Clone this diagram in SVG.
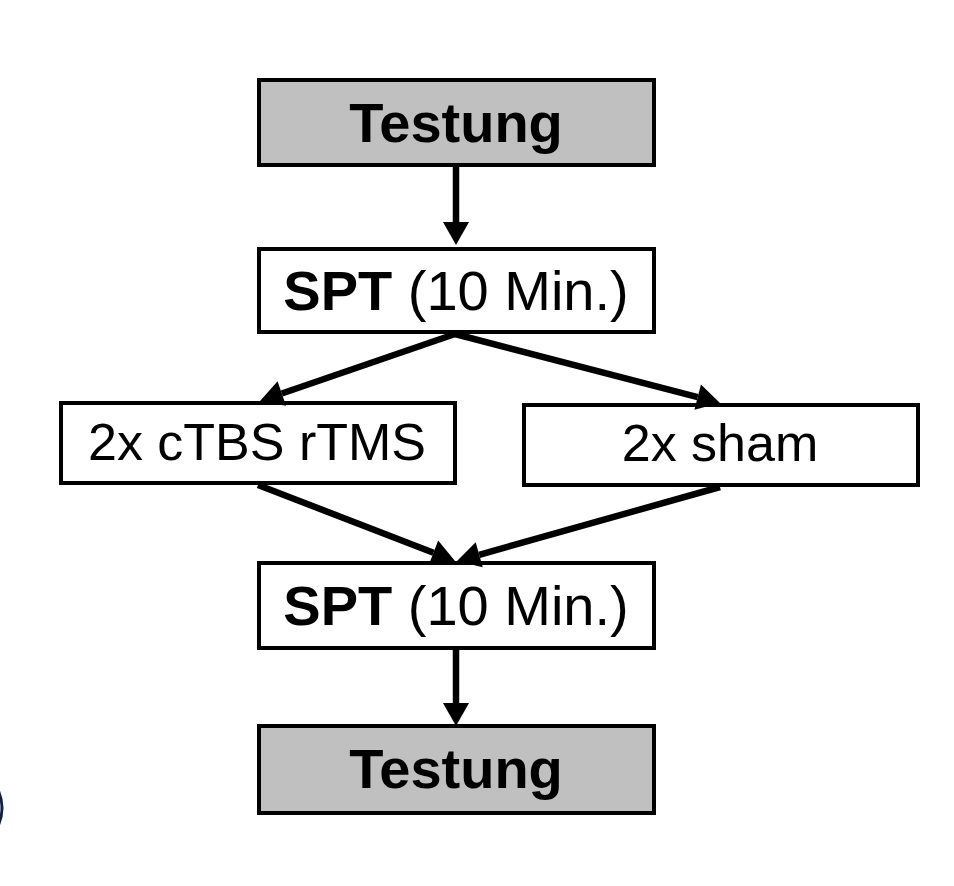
<svg xmlns="http://www.w3.org/2000/svg" width="954" height="886" viewBox="0 0 954 886">
<style>
.box{fill:#ffffff;stroke:#000;stroke-width:4}
.grey{fill:#c0c0c0;stroke:#000;stroke-width:4}
.t{font-family:"Liberation Sans",Arial,sans-serif;fill:#000;text-anchor:middle}
.b{font-weight:bold}
.c{stroke:#000;stroke-width:6.5;fill:none;marker-end:url(#ah)}
</style>
<defs>
<marker id="ah" markerUnits="userSpaceOnUse" markerWidth="24" markerHeight="26" refX="0" refY="13" orient="auto" viewBox="0 0 24 26" overflow="visible">
<path d="M0,0 L23,13 L0,26 z" fill="#000"/>
</marker>
</defs>
<rect width="954" height="886" fill="#fff"/>
<g id="testung1"><rect class="grey" x="259" y="80" width="395" height="85"/><text class="t b" x="456" y="142" font-size="56">Testung</text></g>
<g id="spt1"><rect class="box" x="259" y="249" width="395" height="83"/><text class="t" x="456" y="310" font-size="56"><tspan font-weight="bold">SPT</tspan> (10 Min.)</text></g>
<g id="ctbs"><rect class="box" x="61" y="403" width="394" height="80"/><text class="t" x="257" y="460" font-size="52">2x cTBS rTMS</text></g>
<g id="sham"><rect class="box" x="524" y="405" width="394" height="80"/><text class="t" x="720" y="461" font-size="52">2x sham</text></g>
<g id="spt2"><rect class="box" x="259" y="563" width="395" height="85"/><text class="t" x="456" y="625" font-size="56"><tspan font-weight="bold">SPT</tspan> (10 Min.)</text></g>
<g id="testung2"><rect class="grey" x="259" y="726" width="395" height="87"/><text class="t b" x="456" y="788" font-size="56">Testung</text></g>
<g id="connectors">
<line class="c" x1="456" y1="167" x2="456" y2="222"/>
<line class="c" x1="455" y1="334" x2="281.8" y2="393.5"/>
<line class="c" x1="455" y1="334" x2="697.7" y2="397.2"/>
<line class="c" x1="258" y1="485" x2="433.5" y2="552.7"/>
<line class="c" x1="720" y1="487" x2="479.2" y2="554.8"/>
<line class="c" x1="456" y1="650" x2="456" y2="703"/>
</g>
<path d="M-2,790 Q6,808 -2,826" fill="none" stroke="#10204a" stroke-width="3"/>
</svg>
